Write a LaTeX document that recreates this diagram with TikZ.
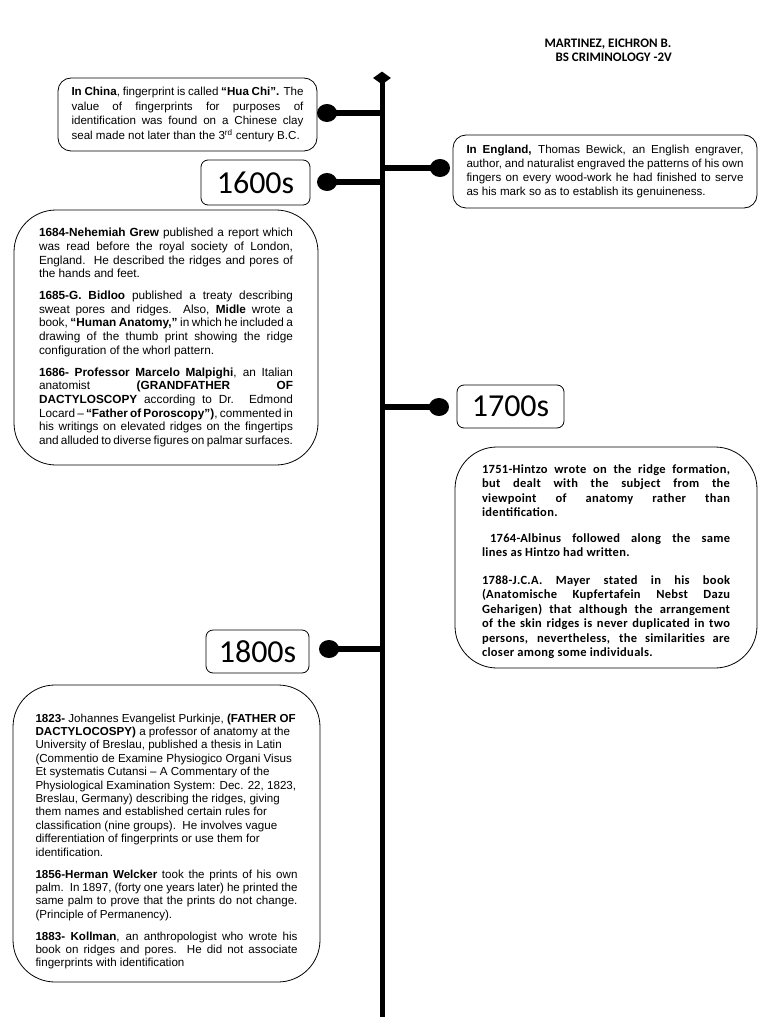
\documentclass[tikz,border=0pt]{standalone}
\usepackage{fontspec}
\setmainfont{Liberation Sans}
\newfontfamily\calibrifont{Carlito}
\newfontfamily\calibrispaced[LetterSpace=2.5]{Carlito}
\usetikzlibrary{positioning,shapes.geometric}
\setlength{\parindent}{0pt}
\newcommand{\lowertext}[1]{\par\vspace{-#1}\hrule height 0pt depth 0pt}

\begin{document}
\begin{tikzpicture}[x=1pt,y=-1pt,
  event/.style={draw, rounded corners=13pt, line width=0.8pt, inner sep=0pt, align=justify,
    font=\fontsize{11.8}{13.6}\selectfont},
  bigevent/.style={event, rounded corners=42pt},
  era/.style={draw, rounded corners=7pt, line width=0.8pt, inner sep=0pt,
    font=\calibrifont\fontsize{32}{36}\selectfont},
  knob/.style={ellipse, fill=black, inner sep=0pt, minimum width=20pt, minimum height=18pt},
  branch/.style={line width=6pt},
  axis/.style={line width=5pt}]
	\path[fill=white] (0,0) rectangle (768,1024);
	% header
	\node[anchor=west, font=\calibrifont\bfseries\fontsize{13}{13}\selectfont] (name) at (541,44) {MARTINEZ, EICHRON B.};
	\node[anchor=west, font=\calibrifont\bfseries\fontsize{13}{13}\selectfont] (course) at (552,57) {BS CRIMINOLOGY -2V};
	% timeline
	\node[diamond, fill=black, minimum width=18pt, minimum height=13pt, inner sep=0pt] (tip) at (382,78) {};
	\coordinate (end) at (382,1017);
	\draw[axis] (tip.center) -- (end);
	\node[knob] (k1) at (327,113) {};
	\node[knob] (k2) at (440,168) {};
	\node[knob] (k3) at (327,182) {};
	\node[knob] (k4) at (439,407) {};
	\node[knob] (k5) at (329,649) {};
	\foreach \k in {1,...,5}
		\draw[branch] (k\k.center) -- (k\k -| tip);
	% eras
	\node[era, minimum width=109pt, minimum height=45pt] (c17) at (255.5,182.5) {1600s};
	\node[era, minimum width=107pt, minimum height=43pt] (c18) at (510.5,406.5) {1700s};
	\node[era, minimum width=103pt, minimum height=43pt] (c19) at (257.5,651.5) {1800s};
	% events
	\node[event, text width=232pt, minimum width=259pt, minimum height=73pt,
		font=\fontsize{11.6}{14.8}\selectfont] (china) at (187.5,114.5) {%
		\textbf{In China}, fingerprint is called \textbf{“Hua Chi”.} The\linebreak
		value of fingerprints for purposes of\linebreak
		identification was found on a Chinese clay\linebreak
		seal made not later than the 3\textsuperscript{rd} century B.C.};
	\node[event, text width=277pt, minimum width=304pt, minimum height=73pt,
		font=\fontsize{11.6}{14}\selectfont] (england) at (605,171.5) {%
		\textbf{In England,} Thomas Bewick, an English engraver,\linebreak
		author, and naturalist engraved the patterns of his own\linebreak
		fingers on every wood-work he had finished to serve\linebreak
		as his mark so as to establish its genuineness.};
	\node[bigevent, text width=254pt, minimum width=304pt, minimum height=255pt] (grew) at (166,337.5) {%
		\textbf{1684-Nehemiah Grew} published a report which\linebreak
		was read before the royal society of London,\linebreak
		England.\ \ He described the ridges and pores of\linebreak
		the hands and feet.\par\vspace{8.5pt}
		\textbf{1685-G. Bidloo} published a treaty describing\linebreak
		sweat pores and ridges.\ \ Also, \textbf{Midle} wrote a\linebreak
		book, \textbf{“Human Anatomy,”} in which he included a\linebreak
		drawing of the thumb print showing the ridge\linebreak
		configuration of the whorl pattern.\par\vspace{8.5pt}
		\textbf{1686- Professor Marcelo Malpighi}, an Italian\linebreak
		anatomist \textbf{(GRANDFATHER OF}\linebreak
		\textbf{DACTYLOSCOPY} according to Dr. Edmond\linebreak
		Locard – \textbf{“Father of Poroscopy”)}, commented in\linebreak
		his writings on elevated ridges on the fingertips\linebreak
		and alluded to diverse figures on palmar surfaces.};
	\node[bigevent, text width=248pt, minimum width=302pt, minimum height=221pt,
		font=\calibrispaced\bfseries\fontsize{12.5}{14.5}\selectfont] (hintzo) at (606,557.5) {%
		1751-Hintzo wrote on the ridge formation,\linebreak
		but dealt with the subject from the\linebreak
		viewpoint of anatomy rather than\linebreak
		identification.\par\vspace{11pt}
		\hspace*{8pt}1764-Albinus followed along the same\linebreak
		lines as Hintzo had written.\par\vspace{13pt}
		1788-J.C.A. Mayer stated in his book\linebreak
		(Anatomische Kupfertafein Nebst Dazu\linebreak
		Geharigen) that although the arrangement\linebreak
		of the skin ridges is never duplicated in two\linebreak
		persons, nevertheless, the similarities are\linebreak
		closer among some individuals.\lowertext{8pt}};
	\node[bigevent, text width=262pt, minimum width=307pt, minimum height=297pt,
		font=\fontsize{11.6}{13.4}\selectfont] (purkinje) at (166.5,833.5) {%
		\textbf{1823-} Johannes Evangelist Purkinje, \textbf{(FATHER OF}\\
		\textbf{DACTYLOCOSPY)} a professor of anatomy at the\\
		University of Breslau, published a thesis in Latin\\
		(Commentio de Examine Physiogico Organi Visus\\
		Et systematis Cutansi – A Commentary of the\\
		Physiological Examination System: Dec. 22, 1823,\\
		Breslau, Germany) describing the ridges, giving\\
		them names and established certain rules for\\
		classification (nine groups).\ \ He involves vague\\
		differentiation of fingerprints or use them for\\
		identification.\par\vspace{8.5pt}
		\textbf{1856-Herman Welcker} took the prints of his own\linebreak
		palm.\ \ In 1897, (forty one years later) he printed the\linebreak
		same palm to prove that the prints do not change.\linebreak
		(Principle of Permanency).\par\vspace{8.5pt}
		\textbf{1883- Kollman}, an anthropologist who wrote his\linebreak
		book on ridges and pores.\ \ He did not associate\linebreak
		fingerprints with identification\lowertext{16pt}};
\end{tikzpicture}
\end{document}
